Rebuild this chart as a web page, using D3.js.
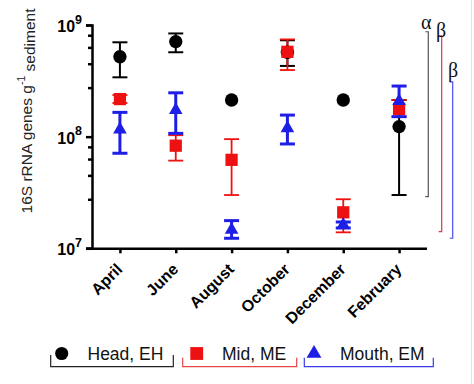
<!DOCTYPE html>
<html>
<head>
<meta charset="utf-8">
<script src="https://cdn.jsdelivr.net/npm/d3@7"></script>
<style>
body { margin: 0; background: #fff; }
svg { display: block; font-family: "Liberation Sans", Arial, sans-serif; }
</style>
</head>
<body>
<div id="chart"></div>
<script>
var months = ["April", "June", "August", "October", "December", "February"];
var seriesNames = ["Head, EH", "Mid, ME", "Mouth, EM"];
var seriesColors = ["#000000", "#ee1111", "#1e1ee6"];
var seriesSymbols = [d3.symbolCircle, d3.symbolSquare, d3.symbolTriangle];

// mean, lower and upper error bar values (copies g-1 sediment)
var headMean = [5.2e8, 7.1e8, 2.13e8, 5.7e8, 2.13e8, 1.23e8];
var headLow  = [3.4e8, 5.7e8, 2.13e8, 4.3e8, 2.13e8, 3.0e7];
var headHigh = [7.0e8, 8.4e8, 2.13e8, 7.3e8, 2.13e8, 2.13e8];

var midMean = [2.17e8, 8.3e7, 6.2e7, 5.75e8, 2.1e7, 1.77e8];
var midLow  = [2.0e8, 6.1e7, 3.0e7, 3.95e8, 1.39e7, 1.51e8];
var midHigh = [2.36e8, 1.03e8, 9.5e7, 7.43e8, 2.75e7, 2.13e8];

var mouthMean = [1.16e8, 1.73e8, 1.46e7, 1.19e8, 1.62e7, 2.08e8];
var mouthLow  = [7.1e7, 1.07e8, 1.23e7, 8.6e7, 1.52e7, 1.51e8];
var mouthHigh = [1.65e8, 2.47e8, 1.77e7, 1.56e8, 1.72e7, 2.84e8];

var majorTicks = [1e7, 1e8, 1e9];
var majorTickExponents = ["7", "8", "9"];
var minorTickMultipliers = [2.75, 4.5, 6.3, 8.1];

// significance brackets on the right: letter, upper and lower value
var sigLetters = ["\u03b1", "\u03b2", "\u03b2"];
var sigHigh = [8.7e8, 8.0e8, 3.1e8];
var sigLow = [2.9e7, 1.41e7, 1.23e7];
var sigColors = ["#555555", "#d9364a", "#4b4bf0"];

var width = 474, height = 384;

var svg = d3.select("#chart").append("svg")
    .attr("width", width)
    .attr("height", height);

var x = d3.scalePoint()
    .domain(months)
    .range([92, 427])
    .padding(0.5);

var y = d3.scaleLog()
    .domain([1e7, 1e9])
    .range([248.3, 25]);

var series = [
    {name: seriesNames[0], mean: headMean, low: headLow, high: headHigh, color: seriesColors[0], symbol: seriesSymbols[0], size: 140, lw: 2},
    {name: seriesNames[1], mean: midMean, low: midLow, high: midHigh, color: seriesColors[1], symbol: seriesSymbols[1], size: 150, lw: 1.8},
    {name: seriesNames[2], mean: mouthMean, low: mouthLow, high: mouthHigh, color: seriesColors[2], symbol: seriesSymbols[2], size: 80, lw: 3}
];

// error bars
series.forEach(function(s) {
    var g = svg.append("g")
        .attr("stroke", s.color)
        .attr("stroke-width", s.lw)
        .attr("fill", "none");
    months.forEach(function(m, i) {
        if (s.low[i] === s.high[i]) return;
        var cx = x(m);
        g.append("line").attr("x1", cx).attr("x2", cx).attr("y1", y(s.low[i])).attr("y2", y(s.high[i]));
        g.append("line").attr("x1", cx - 7.5).attr("x2", cx + 7.5).attr("y1", y(s.low[i])).attr("y2", y(s.low[i]));
        g.append("line").attr("x1", cx - 7.5).attr("x2", cx + 7.5).attr("y1", y(s.high[i])).attr("y2", y(s.high[i]));
    });
});

// markers
series.forEach(function(s) {
    svg.append("g")
        .selectAll("path")
        .data(months)
        .enter().append("path")
            .attr("transform", function(m, i) {
                return "translate(" + x(m) + "," + y(s.mean[i]) + ")";
            })
            .attr("d", d3.symbol().type(s.symbol).size(s.size))
            .attr("fill", s.color);
});

// y axis
var yAxis = svg.append("g")
    .attr("transform", "translate(92,0)")
    .call(d3.axisLeft(y).tickValues(majorTicks).tickSize(6).tickPadding(4).tickFormat(function() { return ""; }));

yAxis.selectAll(".tick text")
    .attr("font-size", 16)
    .attr("font-weight", "bold")
    .attr("font-family", "Liberation Sans, Arial, sans-serif")
    .attr("fill", "#000")
    .attr("dy", "0.4em")
    .each(function(d, i) {
        var t = d3.select(this);
        t.append("tspan").text("10");
        t.append("tspan").attr("font-size", 12.5).attr("dy", "-0.65em").text(majorTickExponents[i]);
    });

var minorValues = [];
[1e7, 1e8].forEach(function(dec) {
    minorTickMultipliers.forEach(function(k) { minorValues.push(dec * k); });
});
svg.append("g")
    .attr("transform", "translate(92,0)")
    .call(d3.axisLeft(y).tickValues(minorValues).tickSize(4).tickFormat(""))
    .call(function(g) { g.select(".domain").remove(); });

svg.selectAll(".domain, .tick line")
    .attr("stroke", "#000")
    .attr("stroke-width", 2.5);

// x axis
var xAxis = svg.append("g")
    .attr("transform", "translate(0,248.3)")
    .call(d3.axisBottom(x).tickSize(5).tickSizeOuter(0));

xAxis.select(".domain").attr("d", "M86,0.5H427").attr("stroke-width", 2.5);
xAxis.selectAll(".tick line").attr("stroke-width", 2.5);
xAxis.selectAll(".tick text")
    .attr("font-size", 16)
    .attr("font-weight", "bold")
    .attr("font-family", "Liberation Sans, Arial, sans-serif")
    .attr("fill", "#000")
    .attr("text-anchor", "end")
    .attr("y", 0)
    .attr("dy", 0)
    .attr("transform", "translate(3,22) rotate(-45)");

// y title
svg.append("text")
    .attr("transform", "translate(31.5,111) rotate(-90)")
    .attr("text-anchor", "middle")
    .attr("font-size", 15.5)
    .attr("fill", "#222")
    .text("16S rRNA genes g")
    .append("tspan").attr("font-size", 10.5).attr("dy", "-0.6em").text("-1")
    .select(function() { return this.parentNode; })
    .append("tspan").attr("dy", "0.6em").text(" sediment");

// significance brackets
var sigX = [428.3, 441.7, 452.7];
sigLetters.forEach(function(letter, i) {
    var yt = y(sigHigh[i]), yb = y(sigLow[i]);
    svg.append("path")
        .attr("d", "M" + (sigX[i] - 3) + "," + yt + "H" + sigX[i] + "V" + yb + "H" + (sigX[i] - 3))
        .attr("fill", "none")
        .attr("stroke", sigColors[i])
        .attr("stroke-width", 1.2);
});
svg.append("g")
    .attr("font-family", "Liberation Serif, Times New Roman, serif")
    .attr("font-size", 20)
    .attr("fill", "#111")
    .selectAll("text")
    .data(sigLetters)
    .enter().append("text")
        .attr("x", function(d, i) { return [421, 436, 448][i]; })
        .attr("y", function(d, i) { return [29, 37, 77][i]; })
        .text(function(d) { return d; });

// legend
var legendX = [{sym: 61.7, text: 87.5, bl: 50.7, br: 173.3, top: 355},
               {sym: 196.7, text: 222, bl: 182.7, br: 296.7, top: 357.7},
               {sym: 314, text: 340, bl: 304.3, br: 433.3, top: 357.7}];
var legendColors = ["#222", "#e64545", "#3a3ae6"];
var legendSizes = [135, 165, 95];

series.forEach(function(s, i) {
    var L = legendX[i];
    svg.append("path")
        .attr("transform", "translate(" + L.sym + ",353.5)")
        .attr("d", d3.symbol().type(s.symbol).size(legendSizes[i]))
        .attr("fill", s.color);
    svg.append("text")
        .attr("x", L.text)
        .attr("y", 359.5)
        .attr("font-size", 17.5)
        .attr("fill", "#111")
        .text(s.name);
    svg.append("path")
        .attr("d", "M" + L.bl + "," + L.top + "V366.7H" + L.br + "V" + L.top)
        .attr("fill", "none")
        .attr("stroke", legendColors[i])
        .attr("stroke-width", 1.2);
});

// frame edge
svg.append("line")
    .attr("x1", 471.5).attr("x2", 471.5).attr("y1", 0).attr("y2", height)
    .attr("stroke", "#e4e4e4").attr("stroke-width", 1);
</script>
</body>
</html>
